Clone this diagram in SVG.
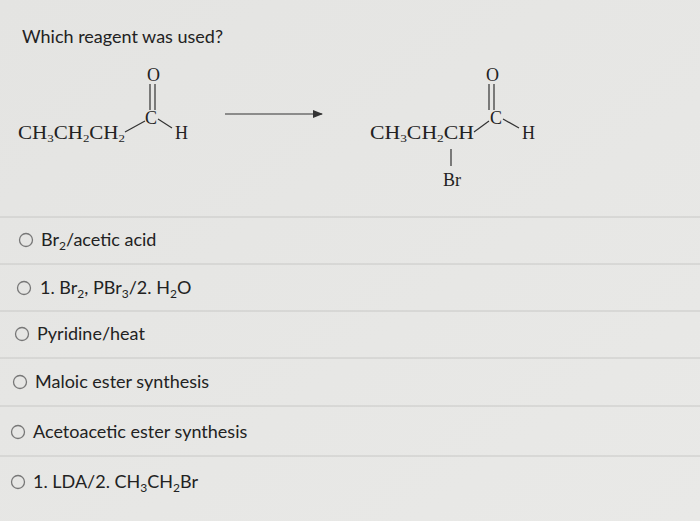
<svg xmlns="http://www.w3.org/2000/svg" width="700" height="521" viewBox="0 0 700 521">
<defs>
<style>
.q{font-family:Lato,"Liberation Sans",sans-serif;font-size:18px;fill:#222}
.c{font-family:"Liberation Serif","Times New Roman",serif;font-size:18px;fill:#222}
.s{font-size:11px}
.b{stroke:#333;stroke-width:1.2;fill:none}
.r{fill:none;stroke:#777;stroke-width:1.3}
.sep{stroke:#c8c8c6;stroke-width:1}
</style>
<linearGradient id="bg" x1="0" y1="0" x2="1" y2="1"><stop offset="0" stop-color="#e4e4e2"/><stop offset="1" stop-color="#e9e9e7"/></linearGradient>
<marker id="ah" markerWidth="10" markerHeight="8" refX="9" refY="4" orient="auto" markerUnits="userSpaceOnUse"><path d="M0,0 L10,4 L0,8 Z" fill="#333"/></marker>
</defs>
<rect width="700" height="521" fill="url(#bg)"/>
<text class="q" x="22" y="43" font-size="19">Which reagent was used?</text>
<text class="c" x="18" y="139" textLength="107" lengthAdjust="spacingAndGlyphs">CH<tspan class="s" dy="3">3</tspan><tspan dy="-3">CH</tspan><tspan class="s" dy="3">2</tspan><tspan dy="-3">CH</tspan><tspan class="s" dy="3">2</tspan></text>
<text class="c" x="147" y="81" font-size="15">O</text>
<text class="c" x="145" y="124" font-size="15">C</text>
<text class="c" x="175" y="139" font-size="16">H</text>
<path class="b" d="M150,84 V110 M155,84 V110 M125,132 L145,121 M158,119 L172,128"/>
<line class="b" x1="225" y1="114" x2="322" y2="114" marker-end="url(#ah)"/>
<text class="c" x="370" y="139" textLength="104" lengthAdjust="spacingAndGlyphs">CH<tspan class="s" dy="3">3</tspan><tspan dy="-3">CH</tspan><tspan class="s" dy="3">2</tspan><tspan dy="-3">CH</tspan></text>
<text class="c" x="486" y="81" font-size="15">O</text>
<text class="c" x="490" y="124" font-size="15">C</text>
<text class="c" x="522" y="139" font-size="16">H</text>
<text class="c" x="443" y="186" font-size="16">Br</text>
<path class="b" d="M489,84 V110 M494,84 V110 M474,132 L489,121 M503,119 L519,128 M451,149 V166"/>
<line class="sep" x1="0" y1="217" x2="700" y2="217"/>
<line class="sep" x1="0" y1="264" x2="700" y2="264"/>
<line class="sep" x1="0" y1="311" x2="700" y2="311"/>
<line class="sep" x1="0" y1="358" x2="700" y2="358"/>
<line class="sep" x1="0" y1="406" x2="700" y2="406"/>
<line class="sep" x1="0" y1="456" x2="700" y2="456"/>
<circle class="r" cx="26" cy="240" r="6.5"/><text class="q" x="41" y="246">Br<tspan font-size="12" dy="4">2</tspan><tspan dy="-4">/acetic acid</tspan></text>
<circle class="r" cx="24" cy="288" r="6.5"/><text class="q" x="40" y="294">1. Br<tspan font-size="12" dy="4">2</tspan><tspan dy="-4">, PBr</tspan><tspan font-size="12" dy="4">3</tspan><tspan dy="-4">/2. H</tspan><tspan font-size="12" dy="4">2</tspan><tspan dy="-4">O</tspan></text>
<circle class="r" cx="22" cy="334" r="6.5"/><text class="q" x="37" y="340">Pyridine/heat</text>
<circle class="r" cx="20" cy="382" r="6.5"/><text class="q" x="35" y="388">Maloic ester synthesis</text>
<circle class="r" cx="18" cy="432" r="6.5"/><text class="q" x="33" y="438">Acetoacetic ester synthesis</text>
<circle class="r" cx="18" cy="482" r="6.5"/><text class="q" x="33" y="488">1. LDA/2. CH<tspan font-size="12" dy="4">3</tspan><tspan dy="-4">CH</tspan><tspan font-size="12" dy="4">2</tspan><tspan dy="-4">Br</tspan></text>
</svg>
